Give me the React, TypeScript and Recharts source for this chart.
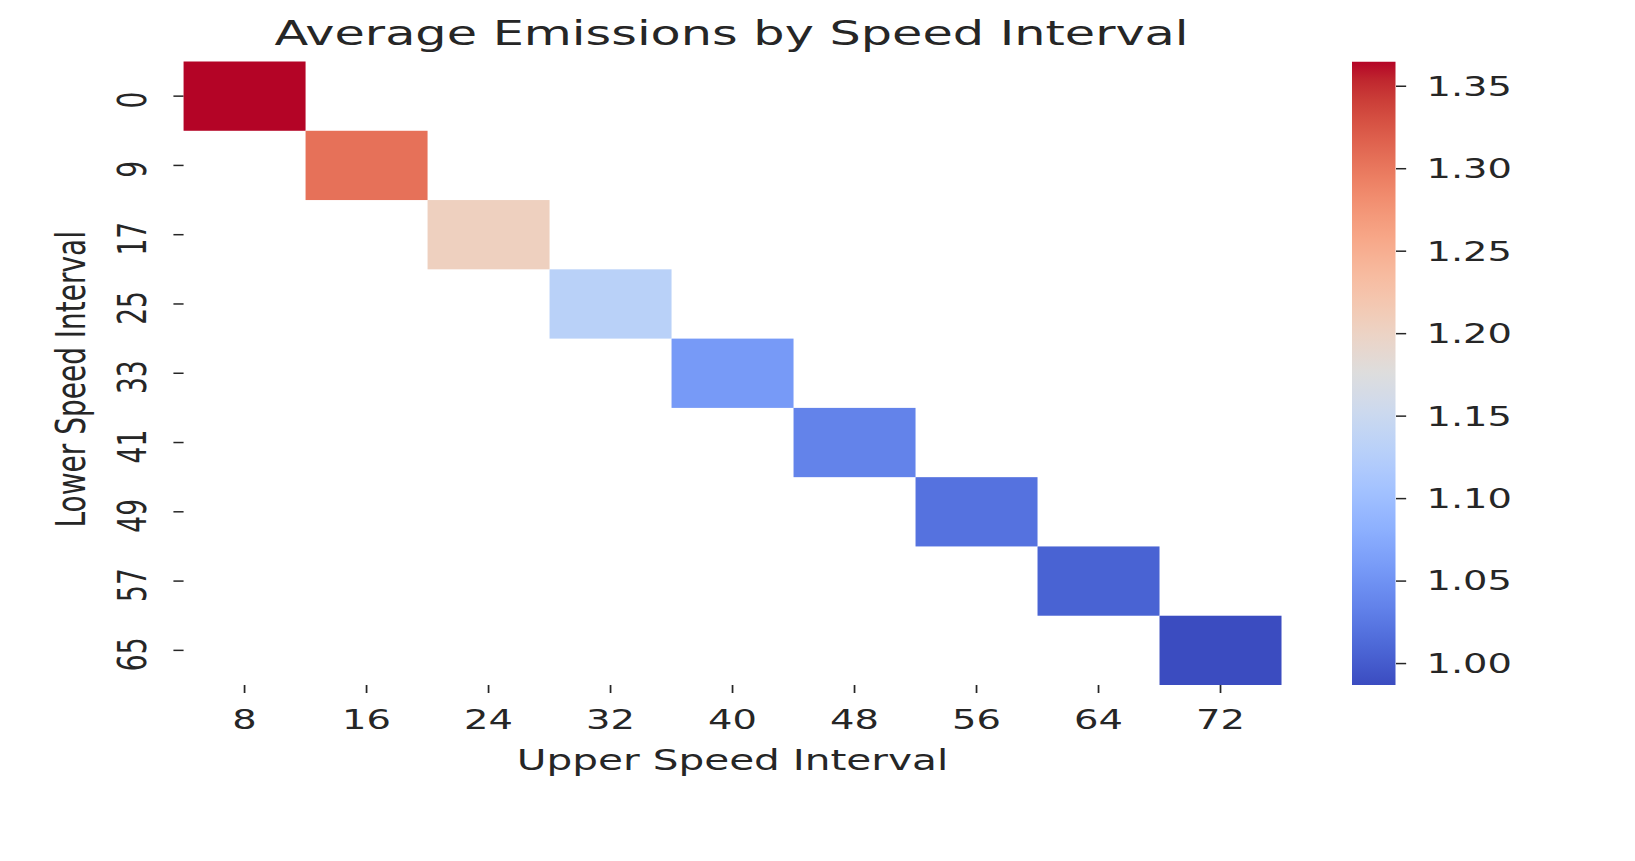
import React from 'react';
import { ScatterChart, Scatter, XAxis, YAxis, BarChart, Bar, Label } from 'recharts';

const lowerSpeed = [0, 9, 17, 25, 33, 41, 49, 57, 65];
const upperSpeed = [8, 16, 24, 32, 40, 48, 56, 64, 72];
const avgEmissions = [1.365, 1.305, 1.205, 1.13, 1.058, 1.035, 1.02, 1.006, 0.987];
const colorbarTicks = [1.0, 1.05, 1.1, 1.15, 1.2, 1.25, 1.3, 1.35];

const VMIN = Math.min(...avgEmissions);
const VMAX = Math.max(...avgEmissions);

// matplotlib "coolwarm" (Moreland), 33 evenly spaced stops
const COOLWARM = [
    [59, 76, 192], [68, 90, 204], [77, 104, 215], [87, 117, 225], [98, 130, 234],
    [108, 142, 241], [119, 154, 247], [130, 165, 251], [141, 176, 254], [152, 185, 255],
    [163, 194, 255], [174, 201, 253], [184, 208, 249], [194, 213, 244], [204, 217, 238],
    [213, 219, 230], [221, 221, 221], [229, 216, 209], [236, 211, 197], [241, 204, 184],
    [245, 196, 172], [247, 187, 160], [247, 177, 148], [247, 166, 135], [244, 154, 123],
    [241, 141, 111], [236, 127, 99], [229, 112, 88], [222, 96, 77], [213, 80, 66],
    [203, 62, 56], [192, 40, 47], [180, 4, 38],
];

const coolwarm = (t: number) => {
    const c = Math.max(0, Math.min(1, t)) * (COOLWARM.length - 1);
    const i = Math.min(Math.floor(c), COOLWARM.length - 2);
    const f = c - i;
    const a = COOLWARM[i];
    const b = COOLWARM[i + 1];
    const mix = (k: number) => Math.round(a[k] + (b[k] - a[k]) * f);
    return `rgb(${mix(0)},${mix(1)},${mix(2)})`;
};

// the reference picture is stretched horizontally; draw narrow and scale x
const SX = 1.45;
const PAGE_W = 1635 / SX;
const H = 861;
const FONT = '"DejaVu Sans", sans-serif';
const INK = '#262626';
const TICK_FS = 26.5;
const LABEL_FS = 28;

const PLOT_LEFT = 126.6;
const PLOT_RIGHT = 883.8;
const PLOT_TOP = 61.5;
const PLOT_BOTTOM = 685;
const HM_W = 900;
const N = upperSpeed.length;
const CELL_W = (PLOT_RIGHT - PLOT_LEFT) / N;
const CELL_H = (PLOT_BOTTOM - PLOT_TOP) / N;

const cells = avgEmissions.map((v, i) => ({ col: i + 0.5, row: i + 0.5, value: v }));
const tickPos = upperSpeed.map((_, i) => i + 0.5);

const CellShape = (props: any) => {
    const { cx, cy, payload } = props;
    const t = (payload.value - VMIN) / (VMAX - VMIN);
    return (
        <rect
            x={cx - CELL_W / 2}
            y={cy - CELL_H / 2}
            width={CELL_W}
            height={CELL_H}
            fill={coolwarm(t)}
        />
    );
};

const YTick = (props: any) => {
    const { x, y, payload } = props;
    const label = lowerSpeed[Math.floor(payload.value)];
    const ty = y + 4;
    return (
        <text
            x={x}
            y={ty}
            transform={`rotate(-90 ${x} ${ty})`}
            textAnchor="middle"
            dominantBaseline="central"
            fontSize={TICK_FS}
            fontFamily={FONT}
            fill={INK}
        >
            {label}
        </text>
    );
};

const YLabel = (props: any) => {
    const vb = props.viewBox || { x: 0, y: PLOT_TOP, width: PLOT_LEFT, height: PLOT_BOTTOM - PLOT_TOP };
    const lx = vb.x + 49;
    const ly = vb.y + vb.height / 2 + 6;
    return (
        <text
            x={lx}
            y={ly}
            transform={`rotate(-90 ${lx} ${ly})`}
            textAnchor="middle"
            dominantBaseline="central"
            fontSize={LABEL_FS}
            fontFamily={FONT}
            fill={INK}
        >
            Lower Speed Interval
        </text>
    );
};

const XLabel = (props: any) => {
    const vb = props.viewBox || { x: PLOT_LEFT, y: PLOT_BOTTOM, width: PLOT_RIGHT - PLOT_LEFT, height: 100 };
    return (
        <text
            x={vb.x + vb.width / 2}
            y={vb.y + 85}
            textAnchor="middle"
            fontSize={LABEL_FS}
            fontFamily={FONT}
            fill={INK}
        >
            Upper Speed Interval
        </text>
    );
};

const colorbarData = [{ k: 'cb', range: [VMIN, VMAX] }];
const CB_CHART_LEFT = 900;
const CB_CHART_W = 200;
const CB_LEFT = 1352 / SX;
const CB_RIGHT = 1396 / SX;

export default function App() {
    return (
        <div
            style={{
                position: 'absolute',
                left: 0,
                top: 0,
                width: PAGE_W,
                height: H,
                background: '#fff',
                transform: `scale(${SX}, 1)`,
                transformOrigin: '0 0',
                fontFamily: FONT,
                overflow: 'hidden',
            }}
        >
            <div
                style={{
                    position: 'absolute',
                    left: 504.5 - 450,
                    top: 15.5,
                    width: 900,
                    textAlign: 'center',
                    fontSize: 34,
                    lineHeight: '34px',
                    color: INK,
                    whiteSpace: 'nowrap',
                }}
            >
                Average Emissions by Speed Interval
            </div>

            <div style={{ position: 'absolute', left: 0, top: 0 }}>
                <ScatterChart
                    width={HM_W}
                    height={H}
                    margin={{ top: PLOT_TOP, right: HM_W - PLOT_RIGHT, bottom: H - PLOT_BOTTOM - 100, left: 0 }}
                >
                    <XAxis
                        type="number"
                        dataKey="col"
                        domain={[0, N]}
                        ticks={tickPos}
                        interval={0}
                        height={100}
                        axisLine={false}
                        tickLine={{ stroke: INK, strokeWidth: 1.2 }}
                        tickSize={8}
                        tickMargin={17}
                        tickFormatter={(v: number) => String(upperSpeed[Math.floor(v)])}
                        tick={{ fill: INK, fontSize: TICK_FS, fontFamily: FONT }}
                    >
                        <Label content={XLabel} />
                    </XAxis>
                    <YAxis
                        type="number"
                        dataKey="row"
                        domain={[0, N]}
                        reversed
                        ticks={tickPos}
                        interval={0}
                        width={PLOT_LEFT}
                        axisLine={false}
                        tickLine={{ stroke: INK, strokeWidth: 1.5 }}
                        tickSize={7}
                        tickMargin={28}
                        tick={<YTick />}
                    >
                        <Label content={YLabel} />
                    </YAxis>
                    <Scatter data={cells} shape={CellShape} isAnimationActive={false} />
                </ScatterChart>
            </div>

            <div style={{ position: 'absolute', left: CB_CHART_LEFT, top: 0 }}>
                <BarChart
                    width={CB_CHART_W}
                    height={H}
                    data={colorbarData}
                    barCategoryGap={0}
                    margin={{
                        top: PLOT_TOP,
                        right: CB_CHART_W - (CB_RIGHT - CB_CHART_LEFT) - 100,
                        bottom: H - PLOT_BOTTOM,
                        left: CB_LEFT - CB_CHART_LEFT,
                    }}
                >
                    <defs>
                        <linearGradient id="coolwarmGrad" x1="0" y1="1" x2="0" y2="0">
                            {COOLWARM.map((c, i) => (
                                <stop
                                    key={i}
                                    offset={`${(i / (COOLWARM.length - 1)) * 100}%`}
                                    stopColor={`rgb(${c[0]},${c[1]},${c[2]})`}
                                />
                            ))}
                        </linearGradient>
                    </defs>
                    <XAxis dataKey="k" hide />
                    <YAxis
                        orientation="right"
                        type="number"
                        domain={[VMIN, VMAX]}
                        allowDataOverflow
                        ticks={colorbarTicks}
                        interval={0}
                        width={100}
                        axisLine={false}
                        tickLine={{ stroke: INK, strokeWidth: 1.5 }}
                        tickSize={7}
                        tickMargin={14}
                        tickFormatter={(v: number) => v.toFixed(2)}
                        tick={{ fill: INK, fontSize: TICK_FS, fontFamily: FONT, textAnchor: 'start' }}
                    />
                    <Bar dataKey="range" fill="url(#coolwarmGrad)" isAnimationActive={false} />
                </BarChart>
            </div>
        </div>
    );
}
